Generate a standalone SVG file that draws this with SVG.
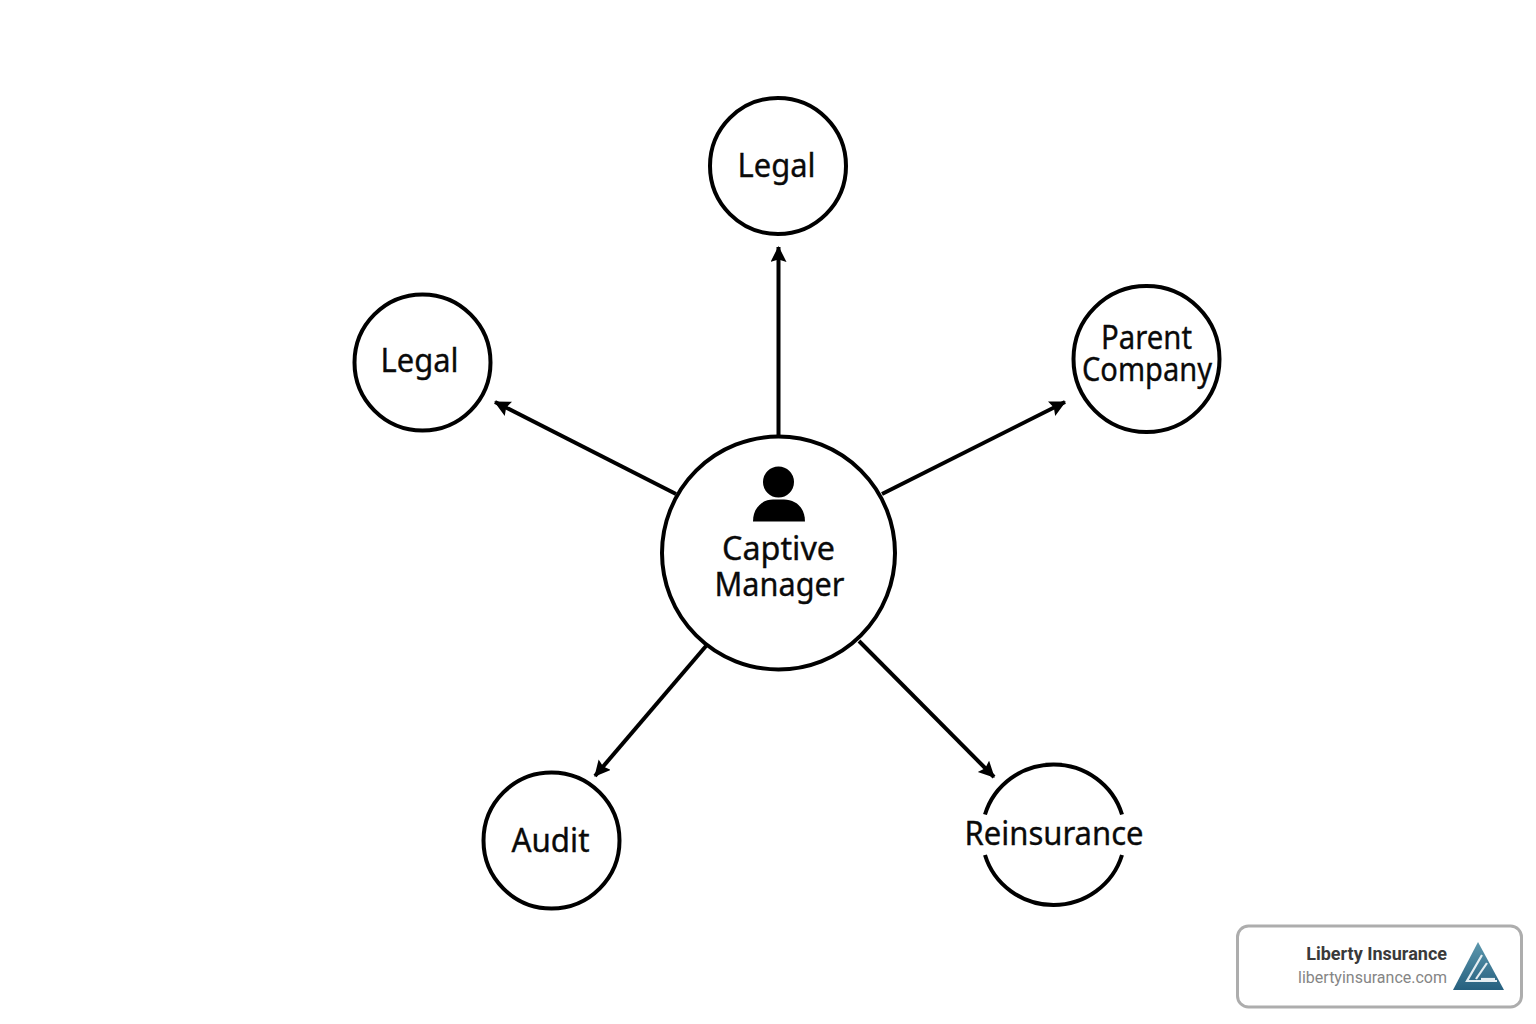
<svg xmlns="http://www.w3.org/2000/svg" width="1536" height="1024" viewBox="0 0 1536 1024">
<style>
.n{fill:#fff;stroke:#000;stroke-width:4}
.arc{fill:none;stroke:#000;stroke-width:4}
.t{font-family:"Noto Sans",sans-serif;font-size:32.500px;fill:#0a0a0a;stroke:#0a0a0a;stroke-width:.35;text-anchor:middle}
.c{stroke:#000;stroke-width:4;fill:none;marker-end:url(#a)}
.w{fill:none;stroke:#e6eef2;stroke-width:2.200}
</style>
<defs>
<marker id="a" markerUnits="userSpaceOnUse" markerWidth="18" markerHeight="18" refX="15" refY="8" orient="auto"><path d="M0 0L16 8L0 16L2.500 8Z" fill="#000"/></marker>
<linearGradient id="g" x1="0" y1="0" x2="0" y2="1"><stop offset="0" stop-color="#5c97ad"/><stop offset="1" stop-color="#26607f"/></linearGradient>
</defs>
<rect width="1536" height="1024" fill="#fff"/>
<g id="connectors">
<path class="c" d="M778.500 436V247"/>
<path class="c" d="M676 494L495 402"/>
<path class="c" d="M882 494L1065 402"/>
<path class="c" d="M706 646L595 776"/>
<path class="c" d="M859 641L994 777"/>
</g>
<g id="center"><circle class="n" cx="778.500" cy="553" r="116.500"/>
<circle cx="778.500" cy="482" r="15.500" fill="#000"/>
<path d="M753 521.500C753 507 763 499.500 773 499.500H784C795 499.500 805 507 805 521.500Z" fill="#000"/>
<text class="t" x="778.500" y="560" textLength="113" lengthAdjust="spacingAndGlyphs">Captive</text><text class="t" x="779.500" y="596" textLength="130" lengthAdjust="spacingAndGlyphs">Manager</text></g>
<g id="legal-top"><circle class="n" cx="778" cy="166" r="68"/><text class="t" x="776.500" y="177" textLength="78" lengthAdjust="spacingAndGlyphs">Legal</text></g>
<g id="legal-left"><circle class="n" cx="422.500" cy="362.500" r="68"/><text class="t" x="419.500" y="372" textLength="78" lengthAdjust="spacingAndGlyphs">Legal</text></g>
<g id="parent"><circle class="n" cx="1146.500" cy="359" r="73"/><text class="t" x="1146.500" y="349" textLength="91" lengthAdjust="spacingAndGlyphs">Parent</text><text class="t" x="1147" y="381" textLength="130" lengthAdjust="spacingAndGlyphs">Company</text></g>
<g id="audit"><circle class="n" cx="551.500" cy="840.500" r="68"/><text class="t" x="550.500" y="852" textLength="78" lengthAdjust="spacingAndGlyphs">Audit</text></g>
<g id="reinsurance"><path class="arc" d="M985 814.500A71.500 70 0 0 1 1122 814.500"/><path class="arc" d="M985 855A71.500 70 0 0 0 1122 855"/><text class="t" x="1054" y="845" textLength="179" lengthAdjust="spacingAndGlyphs">Reinsurance</text></g>
<g id="badge"><rect x="1237.500" y="926" width="284" height="81" rx="11" fill="#fff" stroke="#adadad" stroke-width="3"/>
<text x="1447" y="960" text-anchor="end" font-family="Roboto,sans-serif" font-size="18" font-weight="700" fill="#3a3a3a">Liberty Insurance</text>
<text x="1447" y="983" text-anchor="end" font-family="Roboto,sans-serif" font-size="16" fill="#858585">libertyinsurance.com</text>
<path fill="url(#g)" d="M1478 942L1504 990H1453Z"/>
<path class="w" d="M1482 955L1467 981H1497"/><path class="w" d="M1476 979L1487 963"/><path class="w" d="M1481 979H1495"/></g>
</svg>
